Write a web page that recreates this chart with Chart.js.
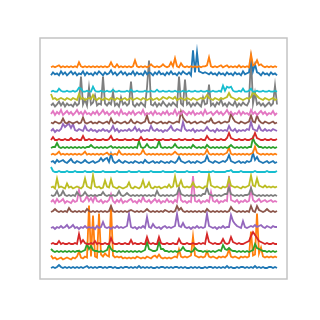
<!DOCTYPE html>
<html>
<head>
<meta charset="utf-8">
<script src="https://cdn.jsdelivr.net/npm/chart.js@4.4.1/dist/chart.umd.min.js"></script>
<style>
  html, body { margin: 0; padding: 0; background: #ffffff; }
  #wrap { width: 320px; height: 320px; }
</style>
</head>
<body>
<div id="wrap"><canvas id="traces" width="320" height="320"></canvas></div>
<script>
// stacked traces, bottom (0) to top (21), tab10 colour cycle
const colors = ["#1f77b4", "#ff7f0e", "#2ca02c", "#d62728", "#9467bd",
  "#8c564b", "#e377c2", "#7f7f7f", "#bcbd22", "#17becf"];

const offsets = [11, 19.5, 27, 35, 50, 67, 75, 83, 90.5, 107, 116, 124.3,
  131, 139, 147, 155.5, 163, 171.5, 179, 187.3, 202.7, 211.7];

const trace0 = [0,1,0,1,3,1,0,1,0,1, 0,1,0,1,0,1,0,1,2,0, 1,0,1,0,1,1,0,1,0,1, 1,0,1,0,0,1,0,1,1,0,
  1,0,1,0,2,0,1,0,1,0, 1,0,0,1,0,1,1,0,1,0, 1,0,1,1,0,1,0,1,0,0, 1,0,1,0,1,0,0,1,0,1,
  1,0,1,0,1,0,1,0,2,0, 1,0,0,1,0,1,1,0,1,0, 1,0,2,0,1,0,1,0,0,1, 1,0,1,0];
const trace1 = [4,1,2,0,1,2,0,1,2,1, 0,2,1,3,8,2,1,3,2,54, 3,44,3,2,46,5,3,6,4,3, 54,4,2,3,2,3,1,2,1,2,
  1,2,1,3,2,1,2,1,3,2, 1,3,4,2,5,2,1,2,1,2, 1,2,3,2,10,3,2,3,2,3, 4,23,4,3,2,3,2,3,8,3,
  2,3,2,1,3,2,3,2,4,10, 3,2,3,2,1,3,2,3,2,3, 28,4,5,46,6,12,3,2,3,2, 3,2,3,2];
const trace2 = [3,1,0,1,0,1,0,1,0,1, 0,1,0,1,1,0,1,2,8,3, 6,2,1,1,0,1,0,1,2,7, 3,1,1,0,1,0,1,0,1,0,
  1,0,1,0,1,0,1,2,10,3, 2,1,1,2,10,3,3,1,1,0, 1,0,1,0,1,2,5,2,1,1, 0,1,4,2,1,1,0,1,0,1,
  0,1,0,1,2,1,7,3,2,4, 2,1,1,0,1,0,1,0,1,0, 1,2,8,4,3,2,1,1,0,1, 0,1,0,1];
const trace3 = [0,1,0,0,3,0,1,0,0,1, 0,0,1,0,10,1,4,1,0,0, 1,0,3,0,1,0,0,1,0,0, 6,1,0,0,1,0,0,1,0,0,
  4,0,1,0,0,1,0,0,7,1, 0,1,0,0,7,1,0,0,1,0, 0,1,0,0,5,1,0,0,1,0, 0,1,0,0,1,0,1,0,10,2,
  1,0,1,0,0,1,5,1,0,1, 7,2,1,0,1,0,0,1,2,3, 8,12,9,6,3,2,1,0,1,0, 0,1,0,0];
const trace4 = [1,2,0,2,1,3,1,2,4,1, 2,4,1,2,0,2,1,3,1,2, 1,2,0,3,1,2,7,2,1,2, 0,2,1,3,1,2,1,2,3,15,
  2,1,2,0,2,1,3,1,12,2, 1,5,2,1,2,0,2,3,1,2, 1,2,3,15,3,2,6,2,1,2, 0,2,1,3,1,2,1,2,15,3,
  2,1,2,0,2,1,3,1,2,2, 14,8,5,3,2,1,8,2,1,2, 3,2,4,2,3,4,2,1,3,2, 1,3,2,2];
const trace5 = [0,1,3,1,0,1,0,1,0,4, 1,0,1,0,1,0,1,0,3,1, 0,1,0,1,0,1,0,1,0,1, 6,1,0,1,0,1,0,1,0,1,
  2,1,0,1,0,1,0,1,3,1, 0,1,0,1,0,1,0,2,1,0, 1,0,1,6,2,4,1,0,1,0, 1,0,1,0,1,0,1,0,3,1,
  0,1,0,1,0,1,0,1,0,1, 5,2,1,0,1,0,1,0,1,0, 6,1,0,6,2,1,0,1,3,1, 0,1,0,1];
const trace6 = [2,4,1,5,2,3,5,1,3,2, 1,4,2,3,14,3,2,4,8,3, 6,2,8,3,2,4,1,3,2,4, 10,3,1,4,2,5,1,3,2,4,
  5,2,3,1,4,2,7,3,2,4, 1,3,5,2,4,1,3,2,5,2, 3,1,4,2,15,4,2,3,1,3, 2,28,3,2,4,1,3,2,4,2,
  12,3,2,4,1,3,2,4,3,28, 4,3,2,4,1,3,2,4,2,3, 15,4,2,3,5,2,3,4,2,3, 4,2,3,2];
const trace7 = [1,0,1,5,0,1,5,1,0,1, 0,1,0,4,1,0,1,4,1,0, 1,0,1,0,1,1,4,1,0,1, 0,1,0,1,5,1,0,1,3,1,
  0,1,0,1,0,1,0,1,0,1, 0,1,0,5,1,0,1,0,1,0, 1,0,1,2,8,2,1,0,1,0, 1,0,1,0,1,0,2,2,8,2,
  1,0,1,0,1,0,1,2,2,8, 2,1,0,1,0,1,0,1,1,2, 8,2,1,0,1,0,1,0,1,0, 1,0,1,0];
const trace8 = [1,2,0,10,1,2,1,0,5,1, 2,0,1,2,1,0,2,10,2,1, 0,13,2,1,2,0,1,8,2,1, 9,2,1,0,2,1,0,1,2,6,
  1,0,2,1,0,2,8,1,2,6, 1,0,2,1,2,0,1,2,1,4, 1,2,12,2,3,8,2,1,2,1, 2,6,2,1,2,1,0,2,2,14,
  3,2,1,2,1,0,2,1,2,10, 3,2,1,2,1,0,2,1,2,3, 13,3,2,10,3,2,1,3,1,2, 1,2,1,2];
const trace9 = [5,1,0,0,1,0,0,0,1,0, 0,0,1,0,0,0,0,1,0,0, 0,1,0,0,0,0,1,0,0,0, 0,0,0,1,0,0,0,0,0,1,
  0,0,0,0,1,0,0,0,0,0, 1,0,0,0,0,0,1,0,0,0, 0,0,1,0,0,0,0,0,1,0, 0,0,0,0,1,0,0,0,0,0,
  0,1,0,0,0,0,0,0,1,1, 2,0,0,0,0,1,0,0,0,0, 0,0,1,0,0,0,0,0,1,0, 0,0,0,1];
const trace10 = [1,2,0,3,1,2,3,1,0,2, 4,1,0,2,1,0,1,3,1,0, 1,2,0,1,2,5,2,4,5,1, 9,2,0,1,3,1,0,2,1,0,
  1,0,2,1,0,1,0,3,1,0, 1,2,0,1,0,2,1,0,1,0, 2,1,0,2,6,2,1,0,1,2, 0,1,0,2,1,0,1,2,7,2,
  1,0,2,1,0,1,2,1,3,8, 2,1,0,1,2,0,1,0,2,1, 2,10,3,6,2,1,0,1,2,0, 1,2,0,1];
const trace11 = [0,1,0,1,3,0,1,0,1,0, 1,0,1,0,1,0,1,3,0,1, 0,1,0,1,0,1,0,1,2,0, 1,0,1,0,4,1,0,1,0,1,
  0,1,0,1,0,1,5,1,0,1, 0,1,0,1,0,1,0,1,0,1, 0,1,3,1,0,1,0,1,0,1, 0,1,0,1,0,1,0,1,5,1,
  0,1,0,1,0,1,0,1,2,7, 1,0,1,0,1,0,1,0,1,0, 1,2,8,2,1,0,1,0,1,0, 1,0,1,0];
const trace12 = [0,1,1,5,1,0,1,0,1,0, 1,0,1,0,1,0,1,0,1,1, 3,1,0,1,0,1,0,1,0,1, 2,0,1,0,1,0,1,0,1,0,
  1,0,1,0,7,1,0,1,4,1, 0,1,0,1,7,1,0,1,0,1, 0,1,4,1,0,1,0,1,0,1, 0,3,1,0,1,0,1,0,3,1,
  0,1,0,1,0,1,0,1,0,1, 3,1,0,1,0,1,0,1,0,1, 1,10,5,3,1,1,0,1,0,1, 0,1,0,1];
const trace13 = [0,3,0,0,1,0,0,1,0,0, 2,0,0,1,0,0,4,0,0,1, 0,0,1,0,0,0,1,0,0,1, 4,0,0,1,0,0,0,1,0,0,
  0,1,0,0,0,3,0,0,1,0, 0,0,1,0,0,0,1,0,0,0, 1,0,0,0,1,0,0,1,0,0, 0,1,0,0,0,1,0,0,4,1,
  0,0,1,0,0,1,0,0,2,7, 2,1,0,0,1,0,0,1,0,0, 1,2,7,2,1,0,0,1,0,0, 1,0,0,1];
const trace14 = [1,3,0,2,1,3,8,5,7,8, 4,8,2,1,3,2,1,6,2,1, 3,1,2,0,2,1,3,1,2,0, 2,6,1,3,0,2,1,2,1,3,
  1,2,5,1,3,0,2,1,2,1, 6,2,1,3,1,2,0,2,1,3, 6,2,1,3,2,1,10,3,1,2, 1,3,0,2,1,2,1,2,5,2,
  1,2,0,3,1,2,1,2,1,6, 2,1,3,0,2,1,2,1,3,2, 10,3,2,1,6,2,1,3,1,2, 1,3,2,1];
const trace15 = [1,0,2,1,0,1,5,1,0,2, 1,0,1,2,0,1,6,1,0,1, 2,0,1,0,2,1,0,1,2,0, 5,1,0,2,1,0,1,2,0,1,
  4,1,0,2,1,0,1,2,8,1, 0,2,1,0,1,2,0,1,0,2, 1,0,1,2,1,12,6,3,1,2, 0,1,2,0,1,2,1,0,2,2,
  5,1,0,1,2,0,1,2,1,2, 10,5,2,1,0,2,1,0,1,2, 8,2,1,8,3,1,0,2,1,0, 1,2,0,1];
const trace16 = [2,5,1,4,2,6,1,3,5,2, 4,1,3,6,2,4,1,5,2,3, 1,4,2,5,1,3,6,2,4,1, 3,5,2,4,1,6,2,3,1,4,
  2,5,1,3,4,2,6,1,3,2, 4,1,5,2,3,1,4,2,5,1, 3,2,6,1,4,2,5,3,1,4, 2,5,1,3,2,4,1,6,2,3,
  4,1,3,5,2,4,1,3,6,2, 4,1,3,2,5,1,4,2,3,1, 6,2,4,1,3,5,2,4,1,3, 2,5,1,3];
const trace17 = [2,4,1,3,6,2,5,1,4,2, 3,1,5,2,4,31,3,8,2,20, 3,5,12,2,4,3,31,4,2,5, 3,15,2,4,1,10,3,5,2,4,
  26,3,1,4,2,5,3,1,20,47, 3,2,5,1,4,2,6,3,1,4, 2,5,3,1,31,4,2,28,3,5, 1,4,2,5,3,1,10,3,4,23,
  2,4,1,5,3,8,2,4,1,5, 3,2,6,1,4,2,5,3,2,6, 50,4,15,3,5,2,4,1,3,5, 2,4,22,3];
const trace18 = [6,1,2,0,1,2,1,0,2,1, 0,2,1,0,6,1,2,0,1,2, 1,5,1,0,2,1,0,2,1,0, 2,1,0,2,1,0,1,2,0,1,
  2,0,1,2,1,0,2,1,0,1, 2,0,1,2,0,1,3,2,1,3, 2,1,3,0,1,2,1,0,2,1, 0,2,1,0,1,2,1,2,5,2,
  1,0,2,1,0,2,1,2,3,7, 3,2,1,0,2,1,0,1,2,1, 3,8,6,4,2,1,0,2,1,0, 1,2,0,1];
const trace19 = [0,1,0,0,3,1,0,0,1,0, 0,1,0,1,4,3,0,0,1,0, 0,5,1,0,0,1,0,0,1,0, 0,2,0,0,1,0,0,0,1,0,
  2,0,0,1,0,0,0,1,0,0, 1,0,0,2,0,0,1,0,0,1, 0,0,1,0,0,0,1,0,0,1, 0,0,1,0,0,1,0,0,1,0,
  0,1,0,0,1,0,6,1,5,4, 5,1,0,0,1,0,3,0,0,1, 3,0,0,1,0,0,1,0,0,1, 0,0,1,0];
const trace20 = [1,4,2,3,1,5,2,4,1,3, 5,2,4,1,3,2,5,1,4,2, 3,1,4,2,5,3,1,4,2,3, 6,2,4,1,3,5,2,4,1,3,
  2,5,1,4,2,3,1,5,2,4, 3,1,4,2,5,2,3,1,4,2, 5,2,3,1,4,2,5,3,2,4, 1,26,4,24,5,4,3,4,3,2,
  4,2,3,1,4,2,3,1,4,2, 3,1,4,2,3,1,5,2,3,4, 19,5,12,4,3,1,4,2,3,1, 4,2,3,1];
const trace21 = [0,1,0,1,2,0,1,0,1,0, 1,0,1,0,5,1,0,1,0,1, 0,1,0,1,0,1,0,1,0,1, 5,1,0,3,0,1,0,1,0,1,
  0,1,7,1,0,1,0,1,0,1, 3,1,0,1,0,1,3,1,0,1, 5,1,9,1,0,4,1,0,1,0, 1,0,1,0,1,0,1,1,2,10,
  1,0,1,0,1,2,0,1,2,0, 1,0,1,0,2,0,1,0,1,0, 13,2,3,7,2,3,1,0,1,0, 1,0,1,0];

const traces = [trace0, trace1, trace2, trace3, trace4, trace5, trace6, trace7,
  trace8, trace9, trace10, trace11, trace12, trace13, trace14, trace15,
  trace16, trace17, trace18, trace19, trace20, trace21];

// later traces drawn on top (chart.js paints dataset 0 last)
const datasets = traces
  .map((values, k) => ({
    data: values.map((v, i) => ({ x: i, y: offsets[k] + v })),
    borderColor: colors[k % 10],
    borderWidth: 1.8,
    pointRadius: 0,
    tension: 0,
    fill: false,
  }))
  .reverse();

const framePlugin = {
  id: "frame",
  afterDraw(chart) {
    const { ctx, chartArea } = chart;
    ctx.save();
    ctx.strokeStyle = "#c4c4c4";
    ctx.lineWidth = 1.5;
    ctx.strokeRect(chartArea.left, chartArea.top,
      chartArea.right - chartArea.left, chartArea.bottom - chartArea.top);
    ctx.restore();
  },
};

new Chart(document.getElementById("traces"), {
  type: "line",
  data: { datasets },
  options: {
    responsive: false,
    animation: false,
    layout: { padding: { left: 40, top: 38, right: 33, bottom: 41 } },
    plugins: { legend: { display: false }, tooltip: { enabled: false } },
    scales: {
      x: { type: "linear", min: -5.5, max: 118, display: false },
      y: { type: "linear", min: 0, max: 241, display: false },
    },
  },
  plugins: [framePlugin],
});
</script>
</body>
</html>
